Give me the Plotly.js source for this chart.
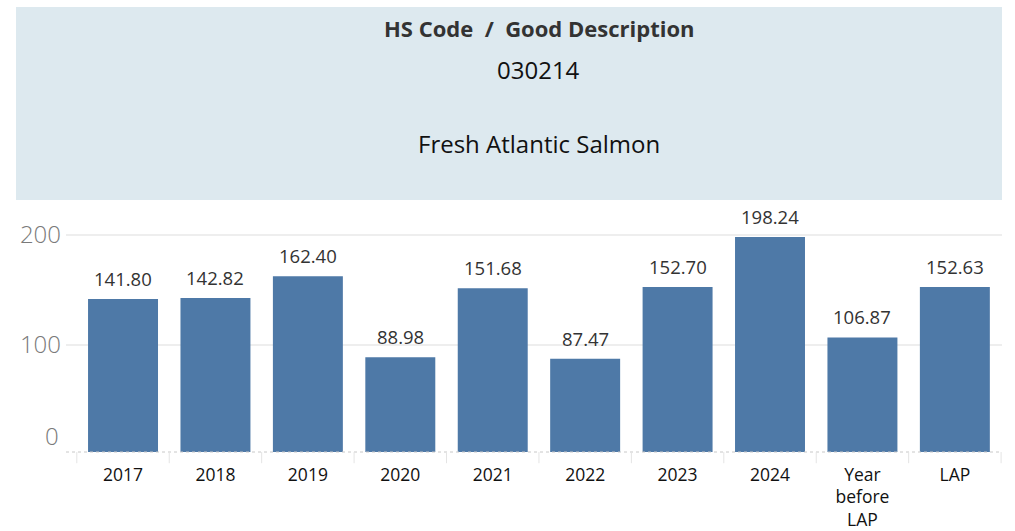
<!DOCTYPE html>
<html><head><meta charset="utf-8">
<script src="https://cdn.plot.ly/plotly-3.0.1.min.js"></script>
<style>html,body{margin:0;padding:0;background:#fff}#chart{width:1015px;height:531px}</style>
</head><body><div id="chart"></div>
<script>
const categories = ['2017','2018','2019','2020','2021','2022','2023','2024','Year<br>before<br>LAP','LAP'];
const values = [141.80, 142.82, 162.40, 88.98, 151.68, 87.47, 152.70, 198.24, 106.87, 152.63];
const headerTitle = 'HS Code  /  Good Description';
const hsCode = '030214';
const goodDescription = 'Fresh Atlantic Salmon';

const idx = categories.map((c,i)=>i);
const trace = {
  type:'bar', x: idx, y: values,
  marker:{color:'#4e79a7'}, width:0.757,
  hoverinfo:'skip', cliponaxis:false
};
const labelAnn = values.map((v,i)=>({
  x:i, y:v, xref:'x', yref:'y', text:v.toFixed(2), showarrow:false,
  yanchor:'bottom', yshift:6,
  font:{family:'Open Sans, Noto Sans, sans-serif', size:18.5, color:'#333333'}
}));
const shapes = [
  {type:'rect', xref:'paper', yref:'paper', x0:-0.0534, x1:1.0, y0:1.012, y1:1.787,
   fillcolor:'#dde9ef', line:{width:0}, layer:'below'},
  {type:'line', xref:'paper', yref:'paper', x0:0, x1:1, y0:0, y1:0,
   line:{color:'#c8c8c8', width:1, dash:'dot'}}
];
for (let i=0;i<=categories.length;i++){
  shapes.push({type:'line', xref:'x', yref:'paper', x0:i-0.5, x1:i-0.5, y0:0, y1:-0.045,
    line:{color:'#e4e4e4', width:1}});
}
const headerAnn = [
  {text:'<b>'+headerTitle+'</b>', x:0.5053, y:1.703, font:{size:22, color:'#333333'}},
  {text:hsCode, x:0.5053, y:1.535, font:{size:24, color:'#111111'}},
  {text:goodDescription, x:0.5053, y:1.237, font:{size:24, color:'#111111'}},
  {text:'0', x:0, y:0, xanchor:'right', yanchor:'bottom', xshift:-5, yshift:-2,
   font:{size:24, color:'#7a7a7a', weight:300}}
].map(a=>Object.assign({xref:'paper', yref:'paper', showarrow:false,
   xanchor:'center', yanchor:'middle'}, a,
   {font:Object.assign({family:'Open Sans, Noto Sans, sans-serif'}, a.font)}));

const layout = {
  width:1015, height:531,
  margin:{l:66, r:13, t:203, b:79},
  paper_bgcolor:'#ffffff', plot_bgcolor:'#ffffff',
  showlegend:false,
  xaxis:{
    type:'linear', range:[-0.617, 9.51], tickmode:'array', tickvals:idx, ticktext:categories,
    showgrid:false, zeroline:false, showline:false, ticks:'',
    ticklabelstandoff:10,
    tickfont:{family:'Open Sans, Noto Sans, sans-serif', size:17.5, color:'#111111', weight:500}
  },
  yaxis:{
    range:[2.73, 229.1], tickvals:[100,200], ticktext:['100','200'],
    showgrid:true, gridcolor:'#eeeeee', gridwidth:1.5, zeroline:false, showline:false,
    ticks:'', ticklabelstandoff:4,
    tickfont:{family:'Open Sans, Noto Sans, sans-serif', size:24, color:'#7a7a7a', weight:300}
  },
  shapes:shapes,
  annotations:labelAnn.concat(headerAnn)
};
Plotly.newPlot('chart',[trace],layout,{displayModeBar:false, staticPlot:true});
</script></body></html>
